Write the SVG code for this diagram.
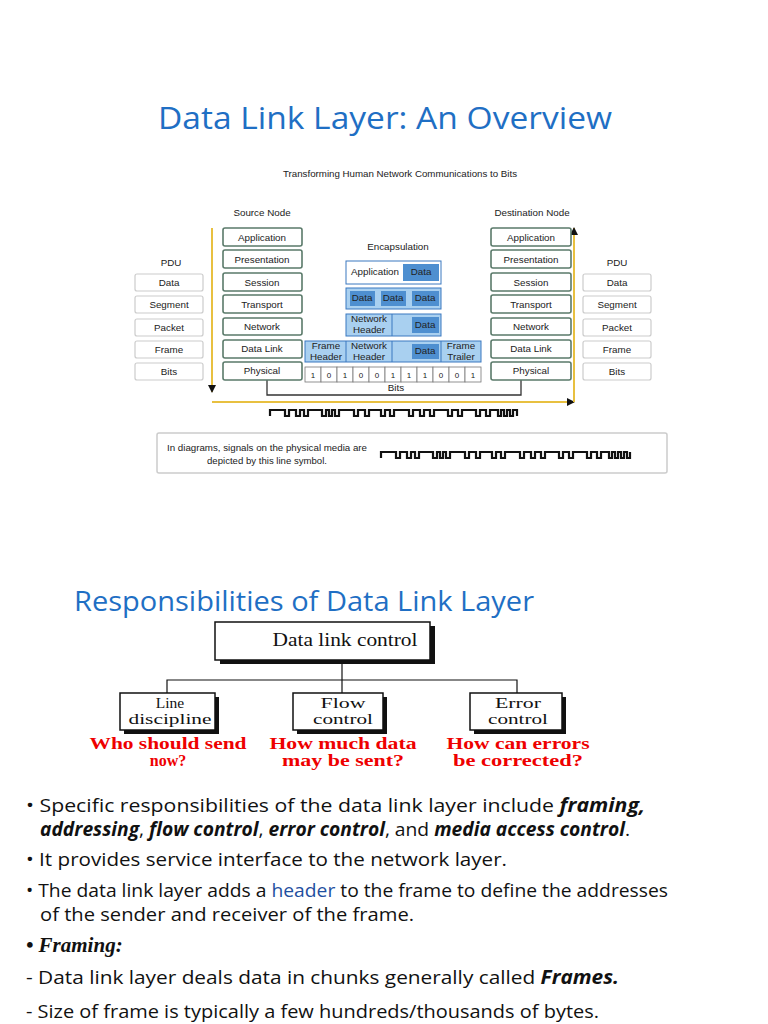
<svg xmlns="http://www.w3.org/2000/svg" width="768" height="1024" viewBox="0 0 768 1024">
<style>
.t{font-family:"Liberation Sans",Arial,sans-serif;fill:#222}
.s{font-size:9.8px;text-anchor:middle}
.lb{fill:#fff;stroke:#5a7a6a;stroke-width:1.6}
.pb{fill:#fff;stroke:#ccc;stroke-width:1.2}
.bl{fill:#a9d0f0;stroke:#3a78c0;stroke-width:1}
.dk{fill:#4e8fd0}
.w{fill:none;stroke:#111;stroke-width:2.2}
.tm{font-family:"Liberation Serif","Times New Roman",serif;fill:#111;text-anchor:middle}
.red{font-family:"Liberation Serif","Times New Roman",serif;fill:#ee0000;font-weight:bold;font-size:16px;text-anchor:middle}
.bu{font-family:"Open Sans","Liberation Sans",sans-serif;font-size:19px;fill:#111}
.bx{fill:#fff;stroke:#111;stroke-width:1.5}
</style>
<defs>
<marker id="ya" markerWidth="8" markerHeight="8" refX="7" refY="4" orient="auto" markerUnits="userSpaceOnUse"><path d="M0,0 L8,4 L0,8 Z" fill="#111"/></marker>
</defs>
<rect width="768" height="1024" fill="#fff"/>
<text x="385" y="129" font-family="Open Sans,Liberation Sans,sans-serif" font-size="31" fill="#1f6fc4" text-anchor="middle" textLength="454" lengthAdjust="spacingAndGlyphs">Data Link Layer: An Overview</text>
<text class="t s" x="400" y="177" textLength="234" lengthAdjust="spacingAndGlyphs">Transforming Human Network Communications to Bits</text>
<text class="t s" x="262" y="216">Source Node</text>
<text class="t s" x="532" y="216">Destination Node</text>
<text class="t s" x="398" y="250">Encapsulation</text>
<text class="t s" x="171" y="266" font-size="10.5">PDU</text>
<text class="t s" x="617" y="266" font-size="10.5">PDU</text>

<g id="connectors">
<polyline points="212,228 212,392" fill="none" stroke="#e8c040" stroke-width="2" marker-end="url(#ya)"/>
<polyline points="212,402 574,402" fill="none" stroke="#e8c040" stroke-width="2" marker-end="url(#ya)"/>
<polyline points="574,402 574,228" fill="none" stroke="#e8c040" stroke-width="2" marker-end="url(#ya)"/>
<polyline points="267,380 267,395 521,395 521,380" fill="none" stroke="#333" stroke-width="1.3"/>
<line x1="342" y1="660" x2="342" y2="680" stroke="#111" stroke-width="1.2"/>
<polyline points="167,693 167,680 517,680 517,693" fill="none" stroke="#111" stroke-width="1.2"/>
<line x1="342" y1="680" x2="342" y2="693" stroke="#111" stroke-width="1.2"/>
</g>

<g id="source-node">
<rect class="lb" x="223" y="228" width="79" height="18" rx="2"/><text class="t s" x="262" y="241">Application</text>
<rect class="lb" x="223" y="250" width="79" height="18" rx="2"/><text class="t s" x="262" y="263">Presentation</text>
<rect class="lb" x="223" y="273" width="79" height="18" rx="2"/><text class="t s" x="262" y="286">Session</text>
<rect class="lb" x="223" y="295" width="79" height="18" rx="2"/><text class="t s" x="262" y="308">Transport</text>
<rect class="lb" x="223" y="318" width="79" height="17" rx="2"/><text class="t s" x="262" y="330">Network</text>
<rect class="lb" x="223" y="340" width="79" height="18" rx="2"/><text class="t s" x="262" y="352">Data Link</text>
<rect class="lb" x="223" y="362" width="79" height="18" rx="2"/><text class="t s" x="262" y="374">Physical</text>
</g>
<g id="destination-node">
<rect class="lb" x="491" y="228" width="80" height="18" rx="2"/><text class="t s" x="531" y="241">Application</text>
<rect class="lb" x="491" y="250" width="80" height="18" rx="2"/><text class="t s" x="531" y="263">Presentation</text>
<rect class="lb" x="491" y="273" width="80" height="18" rx="2"/><text class="t s" x="531" y="286">Session</text>
<rect class="lb" x="491" y="295" width="80" height="18" rx="2"/><text class="t s" x="531" y="308">Transport</text>
<rect class="lb" x="491" y="318" width="80" height="17" rx="2"/><text class="t s" x="531" y="330">Network</text>
<rect class="lb" x="491" y="340" width="80" height="18" rx="2"/><text class="t s" x="531" y="352">Data Link</text>
<rect class="lb" x="491" y="362" width="80" height="18" rx="2"/><text class="t s" x="531" y="374">Physical</text>
</g>
<g id="pdu-left">
<rect class="pb" x="135" y="274" width="68" height="17" rx="2"/><text class="t s" x="169" y="286">Data</text>
<rect class="pb" x="135" y="296" width="68" height="17" rx="2"/><text class="t s" x="169" y="308">Segment</text>
<rect class="pb" x="135" y="319" width="68" height="17" rx="2"/><text class="t s" x="169" y="331">Packet</text>
<rect class="pb" x="135" y="341" width="68" height="17" rx="2"/><text class="t s" x="169" y="353">Frame</text>
<rect class="pb" x="135" y="363" width="68" height="17" rx="2"/><text class="t s" x="169" y="375">Bits</text>
</g>
<g id="pdu-right">
<rect class="pb" x="583" y="274" width="68" height="17" rx="2"/><text class="t s" x="617" y="286">Data</text>
<rect class="pb" x="583" y="296" width="68" height="17" rx="2"/><text class="t s" x="617" y="308">Segment</text>
<rect class="pb" x="583" y="319" width="68" height="17" rx="2"/><text class="t s" x="617" y="331">Packet</text>
<rect class="pb" x="583" y="341" width="68" height="17" rx="2"/><text class="t s" x="617" y="353">Frame</text>
<rect class="pb" x="583" y="363" width="68" height="17" rx="2"/><text class="t s" x="617" y="375">Bits</text>
</g>
<g id="encapsulation">
<rect x="346" y="261" width="95" height="23" fill="#fff" stroke="#3a78c0"/>
<rect class="dk" x="403" y="264" width="36" height="17"/>
<text class="t s" x="375" y="275" font-size="8">Application</text><text class="t s" x="421" y="275" font-size="8">Data</text>
<rect class="bl" x="346" y="288" width="95" height="21"/>
<rect class="dk" x="350" y="291" width="25" height="15"/><rect class="dk" x="381" y="291" width="25" height="15"/><rect class="dk" x="412" y="291" width="27" height="15"/>
<text class="t s" x="362" y="301" font-size="8">Data</text><text class="t s" x="393" y="301" font-size="8">Data</text><text class="t s" x="425" y="301" font-size="8">Data</text>
<rect class="bl" x="346" y="314" width="95" height="22"/><line x1="392" y1="314" x2="392" y2="336" stroke="#3a78c0"/>
<rect class="dk" x="412" y="317" width="27" height="16"/>
<text class="t s" x="369" y="322" font-size="7">Network</text><text class="t s" x="369" y="333" font-size="7">Header</text><text class="t s" x="425" y="328" font-size="8">Data</text>
<rect class="bl" x="305" y="341" width="176" height="21"/>
<line x1="346" y1="341" x2="346" y2="362" stroke="#3a78c0"/><line x1="392" y1="341" x2="392" y2="362" stroke="#3a78c0"/><line x1="441" y1="341" x2="441" y2="362" stroke="#3a78c0"/>
<rect class="dk" x="412" y="344" width="27" height="15"/>
<text class="t s" x="326" y="349" font-size="7">Frame</text><text class="t s" x="326" y="360" font-size="7">Header</text>
<text class="t s" x="369" y="349" font-size="7">Network</text><text class="t s" x="369" y="360" font-size="7">Header</text>
<text class="t s" x="425" y="354" font-size="8">Data</text>
<text class="t s" x="461" y="349" font-size="7">Frame</text><text class="t s" x="461" y="360" font-size="7">Trailer</text>
<g fill="#fff" stroke="#777" stroke-width="0.8">
<rect x="305" y="367" width="16" height="15"/><rect x="321" y="367" width="16" height="15"/><rect x="337" y="367" width="16" height="15"/><rect x="353" y="367" width="16" height="15"/><rect x="369" y="367" width="16" height="15"/><rect x="385" y="367" width="16" height="15"/><rect x="401" y="367" width="16" height="15"/><rect x="417" y="367" width="16" height="15"/><rect x="433" y="367" width="16" height="15"/><rect x="449" y="367" width="16" height="15"/><rect x="465" y="367" width="16" height="15"/>
</g>
<g class="t" font-size="8" text-anchor="middle">
<text x="313" y="378">1</text><text x="329" y="378">0</text><text x="345" y="378">1</text><text x="361" y="378">0</text><text x="377" y="378">0</text><text x="393" y="378">1</text><text x="409" y="378">1</text><text x="425" y="378">1</text><text x="441" y="378">0</text><text x="457" y="378">0</text><text x="473" y="378">1</text>
</g>
<text class="t s" x="396" y="391" font-size="8.5">Bits</text>
</g>
<path class="w" d="M270,416 V410 H285 V416 H289 V410 H296 V416 H300 V410 H304 V416 H308 V410 H322 V416 H326 V410 H329 V416 H332 V410 H335 V416 H339 V410 H354 V416 H358 V410 H365 V416 H369 V410 H381 V416 H385 V410 H390 V416 H394 V410 H409 V416 H413 V410 H420 V416 H424 V410 H430 V416 H434 V410 H448 V416 H452 V410 H458 V416 H462 V410 H476 V416 H480 V410 H486 V416 H490 V410 H498 V416 H501 V410 H504 V416 H507 V410 H510 V416 H513 V410 H517 V416"/>
<g id="legend">
<rect x="157" y="433" width="510" height="40" rx="2" fill="#fff" stroke="#ccc" stroke-width="1.5"/>
<text class="t" x="167" y="451" font-size="9.5" textLength="200" lengthAdjust="spacingAndGlyphs">In diagrams, signals on the physical media are</text>
<text class="t" x="207" y="464" font-size="9.5" textLength="120" lengthAdjust="spacingAndGlyphs">depicted by this line symbol.</text>
<path class="w" d="M381,458 V452 H396 V458 H400 V452 H407 V458 H411 V452 H415 V458 H419 V452 H433 V458 H437 V452 H440 V458 H443 V452 H446 V458 H450 V452 H465 V458 H469 V452 H476 V458 H480 V452 H492 V458 H496 V452 H501 V458 H505 V452 H520 V458 H524 V452 H531 V458 H535 V452 H541 V458 H545 V452 H559 V458 H563 V452 H569 V458 H573 V452 H587 V458 H591 V452 H597 V458 H601 V452 H609 V458 H612 V452 H615 V458 H618 V452 H621 V458 H624 V452 H627 V458 H630 V452"/>
</g>

<text x="74" y="611" font-family="Open Sans,Liberation Sans,sans-serif" font-size="28" fill="#1f6fc4" textLength="460" lengthAdjust="spacingAndGlyphs">Responsibilities of Data Link Layer</text>
<g id="data-link-control">
<rect x="220" y="626" width="215" height="38" fill="#111"/>
<rect class="bx" x="215" y="622" width="215" height="38"/>
<text class="tm" x="345" y="646" font-size="19" textLength="145" lengthAdjust="spacingAndGlyphs">Data link control</text>
</g>
<g id="line-discipline">
<rect x="124" y="697" width="95" height="37" fill="#111"/>
<rect class="bx" x="120" y="693" width="95" height="37"/>
<text class="tm" x="170" y="708" font-size="15.5">Line</text><text class="tm" x="170" y="724" font-size="15.5" textLength="83" lengthAdjust="spacingAndGlyphs">discipline</text>
<text class="red" x="168" y="749" textLength="157" lengthAdjust="spacingAndGlyphs">Who should send</text><text class="red" x="168" y="766">now?</text>
</g>
<g id="flow-control">
<rect x="297" y="697" width="90" height="37" fill="#111"/>
<rect class="bx" x="293" y="693" width="90" height="37"/>
<text class="tm" x="343" y="708" font-size="15.5" textLength="45" lengthAdjust="spacingAndGlyphs">Flow</text><text class="tm" x="343" y="724" font-size="15.5" textLength="60" lengthAdjust="spacingAndGlyphs">control</text>
<text class="red" x="343" y="749" textLength="147" lengthAdjust="spacingAndGlyphs">How much data</text><text class="red" x="343" y="766" textLength="122" lengthAdjust="spacingAndGlyphs">may be sent?</text>
</g>
<g id="error-control">
<rect x="474" y="697" width="92" height="37" fill="#111"/>
<rect class="bx" x="470" y="693" width="92" height="37"/>
<text class="tm" x="518" y="708" font-size="15.5" textLength="46" lengthAdjust="spacingAndGlyphs">Error</text><text class="tm" x="518" y="724" font-size="15.5" textLength="60" lengthAdjust="spacingAndGlyphs">control</text>
<text class="red" x="518" y="749" textLength="143" lengthAdjust="spacingAndGlyphs">How can errors</text><text class="red" x="518" y="766" textLength="130" lengthAdjust="spacingAndGlyphs">be corrected?</text>
</g>

<g class="bu">
<text x="26" y="812" textLength="619" lengthAdjust="spacingAndGlyphs">• Specific responsibilities of the data link layer include <tspan font-weight="bold" font-style="italic">framing,</tspan></text>
<text x="40" y="836" textLength="590" lengthAdjust="spacingAndGlyphs"><tspan font-weight="bold" font-style="italic">addressing</tspan>, <tspan font-weight="bold" font-style="italic">flow control</tspan>, <tspan font-weight="bold" font-style="italic">error control</tspan>, and <tspan font-weight="bold" font-style="italic">media access control</tspan>.</text>
<text x="26" y="866" textLength="481" lengthAdjust="spacingAndGlyphs">• It provides service interface to the network layer.</text>
<text x="26" y="897" textLength="642" lengthAdjust="spacingAndGlyphs">• The data link layer adds a <tspan fill="#1f4fa0">header</tspan> to the frame to define the addresses</text>
<text x="40" y="921" textLength="374" lengthAdjust="spacingAndGlyphs">of the sender and receiver of the frame.</text>
<text x="26" y="952" font-family="Liberation Serif,serif" font-weight="bold" font-style="italic" font-size="21">• Framing:</text>
<text x="26" y="984" textLength="593" lengthAdjust="spacingAndGlyphs">- Data link layer deals data in chunks generally called <tspan font-weight="bold" font-style="italic">Frames.</tspan></text>
<text x="26" y="1018" textLength="573" lengthAdjust="spacingAndGlyphs">- Size of frame is typically a few hundreds/thousands of bytes.</text>
</g>
</svg>
